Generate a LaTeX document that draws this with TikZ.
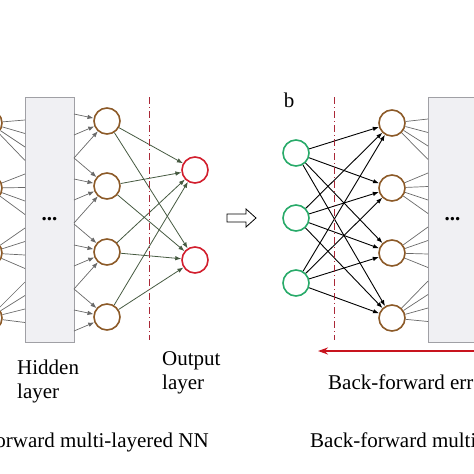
\documentclass[tikz,border=0pt]{standalone}
\usepackage{fontspec}
\setmainfont{Liberation Serif}
\usetikzlibrary{arrows.meta}

\definecolor{cellbrown}{RGB}{140,90,40}
\definecolor{outred}{RGB}{210,30,45}
\definecolor{ingreen}{RGB}{40,170,105}
\definecolor{boxfill}{RGB}{240,240,243}
\definecolor{boxline}{RGB}{160,160,165}
\definecolor{wiregray}{RGB}{105,105,105}
\definecolor{outwire}{RGB}{70,90,65}
\definecolor{cutred}{RGB}{170,40,55}
\definecolor{backred}{RGB}{200,20,30}

\tikzset{
  hid/.style={draw=cellbrown,circle,line width=1.6pt,minimum size=26pt,inner sep=0pt},
  outn/.style={draw=outred,circle,line width=1.6pt,minimum size=26pt,inner sep=0pt},
  inn/.style={draw=ingreen,circle,line width=1.6pt,minimum size=26pt,inner sep=0pt},
  layerbox/.style={draw=boxline,fill=boxfill,line width=0.8pt,minimum width=49pt,minimum height=245pt,inner sep=0pt,font=\fontsize{21}{24}\selectfont\bfseries},
  wire/.style={draw=wiregray,line width=0.7pt},
  tip/.style={-{Latex[length=6pt,width=4.5pt]}},
  cut/.style={draw=cutred,line width=1pt,dash pattern=on 7pt off 3pt on 1pt off 3pt},
  lbl/.style={font=\fontsize{21}{24}\selectfont,inner sep=0pt,align=left}
}

\begin{document}
\begin{tikzpicture}[x=1pt,y=-1pt]
  \useasboundingbox (0,0) rectangle (474,474);
  \clip (0,0) rectangle (474,474);

  % left network
  \node (lbox) at (49.5,219.5) [layerbox] {...};
  \node (i1) at (-11,123) [hid] {};
  \node (i2) at (-11,188) [hid] {};
  \node (i3) at (-11,253) [hid] {};
  \node (i4) at (-11,318) [hid] {};
  \node (h1) at (107,121) [hid] {};
  \node (h2) at (107,186) [hid] {};
  \node (h3) at (107,252) [hid] {};
  \node (h4) at (107,317) [hid] {};
  \node (o1) at (195,170) [outn] {};
  \node (o2) at (195,260) [outn] {};

  \foreach \i in {1,...,4}
    \foreach \k in {0,...,3} {
      \coordinate (la\i-\k) at (25,{120+13.5*(4*(\i-1)+\k)});
      \draw[wire] (i\i) -- (la\i-\k);
    }
  \foreach \j/\ys in {1/{114,135,158},2/{158,179,200,223},3/{224,245,266,289},4/{289,310,331}}
    \foreach \y in \ys {
      \coordinate (lb\j-\y) at (74,\y);
      \draw[wire,tip] (lb\j-\y) -- (h\j);
    }
  \foreach \j in {1,...,4}
    \foreach \k in {1,2}
      \draw[draw=outwire,line width=0.8pt,tip] (h\j) -- (o\k);

  \coordinate (c1) at (149,97);
  \coordinate (c2) at (149,340);
  \draw[cut] (c1) -- (c2);

  % hollow arrow between the panels
  \draw[line width=0.8pt] (227,214) -- (246,214) -- (246,209) -- (256,218)
    -- (246,227) -- (246,222) -- (227,222) -- cycle;

  % right network
  \node (b) at (289,100) [lbl] {b};
  \node (rbox) at (452.5,219.5) [layerbox] {...};
  \node (g1) at (296,153) [inn] {};
  \node (g2) at (296,218) [inn] {};
  \node (g3) at (296,283) [inn] {};
  \node (r1) at (392,123) [hid] {};
  \node (r2) at (392,188) [hid] {};
  \node (r3) at (392,253) [hid] {};
  \node (r4) at (392,318) [hid] {};

  \foreach \i in {1,2,3}
    \foreach \j in {1,...,4}
      \draw[black,line width=0.9pt,tip] (g\i) -- (r\j);
  \foreach \j in {1,...,4}
    \foreach \k in {0,...,3} {
      \coordinate (ra\j-\k) at (428,{119+13.5*(4*(\j-1)+\k)});
      \draw[wire] (r\j) -- (ra\j-\k);
    }

  \coordinate (c3) at (334,97);
  \coordinate (c4) at (334,340);
  \draw[cut] (c3) -- (c4);

  \coordinate (e1) at (480,351);
  \coordinate (e0) at (318,351);
  \draw[draw=backred,line width=1.8pt,-{Stealth[length=10pt,width=7pt]}] (e1) -- (e0);

  % labels
  \node (hl) at (17,381.5) [lbl,anchor=west] {Hidden\\layer};
  \node (ol) at (162,373) [lbl,anchor=west] {Output\\layer};
  \node (be) at (328,382) [lbl,anchor=west] {Back-forward error};
  \node (cap1) at (209,442) [lbl,anchor=east] {Feed-forward multi-layered NN};
  \node (cap2) at (310,442) [lbl,anchor=west] {Back-forward multi-layered NN};
\end{tikzpicture}
\end{document}
